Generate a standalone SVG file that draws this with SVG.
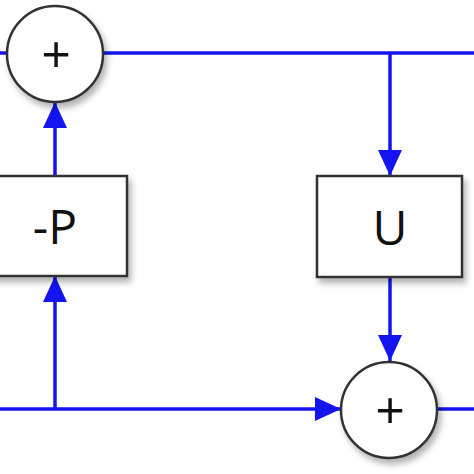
<svg xmlns="http://www.w3.org/2000/svg" width="474" height="474" viewBox="0 0 474 474">
<defs>
<style>
.wire{stroke:#1414f0;stroke-width:3.5;fill:none}
.node{fill:#fff;stroke:#333;stroke-width:2.5;filter:url(#sh)}
.lbl{font-family:"Open Sans","DejaVu Sans",sans-serif;fill:#111;text-anchor:middle}
</style>
<filter id="sh" x="-20%" y="-20%" width="150%" height="150%">
<feDropShadow dx="3" dy="5" stdDeviation="3" flood-color="#000" flood-opacity="0.3"/>
</filter>
<marker id="ah" markerUnits="userSpaceOnUse" markerWidth="26" markerHeight="26" refX="26" refY="12" orient="auto">
<path d="M0,0 L26,12 L0,24 Z" fill="#1414f0"/>
</marker>
</defs>
<rect width="474" height="474" fill="#fff"/>
<g id="connectors">
<line class="wire" x1="0" y1="53" x2="8" y2="53"/>
<line class="wire" x1="102" y1="53" x2="474" y2="53"/>
<line class="wire" x1="390" y1="53" x2="390" y2="176" marker-end="url(#ah)"/>
<line class="wire" x1="390" y1="277" x2="390" y2="361" marker-end="url(#ah)"/>
<line class="wire" x1="0" y1="409" x2="341" y2="409" marker-end="url(#ah)"/>
<line class="wire" x1="55" y1="409" x2="55" y2="276" marker-end="url(#ah)"/>
<line class="wire" x1="55" y1="176" x2="55" y2="102" marker-end="url(#ah)"/>
<line class="wire" x1="437" y1="409" x2="474" y2="409"/>
</g>
<g id="sum-top">
<circle class="node" cx="55" cy="54" r="48"/>
<text class="lbl" x="56" y="73" font-size="52">+</text>
</g>
<g id="box-P">
<rect class="node" x="-20" y="176" width="147" height="100"/>
<text class="lbl" x="55" y="244" font-size="48">-P</text>
</g>
<g id="box-U">
<rect class="node" x="317" y="176" width="145" height="101"/>
<text class="lbl" x="390" y="245" font-size="48">U</text>
</g>
<g id="sum-bottom">
<circle class="node" cx="389" cy="410" r="48"/>
<text class="lbl" x="390" y="429" font-size="52">+</text>
</g>
</svg>
